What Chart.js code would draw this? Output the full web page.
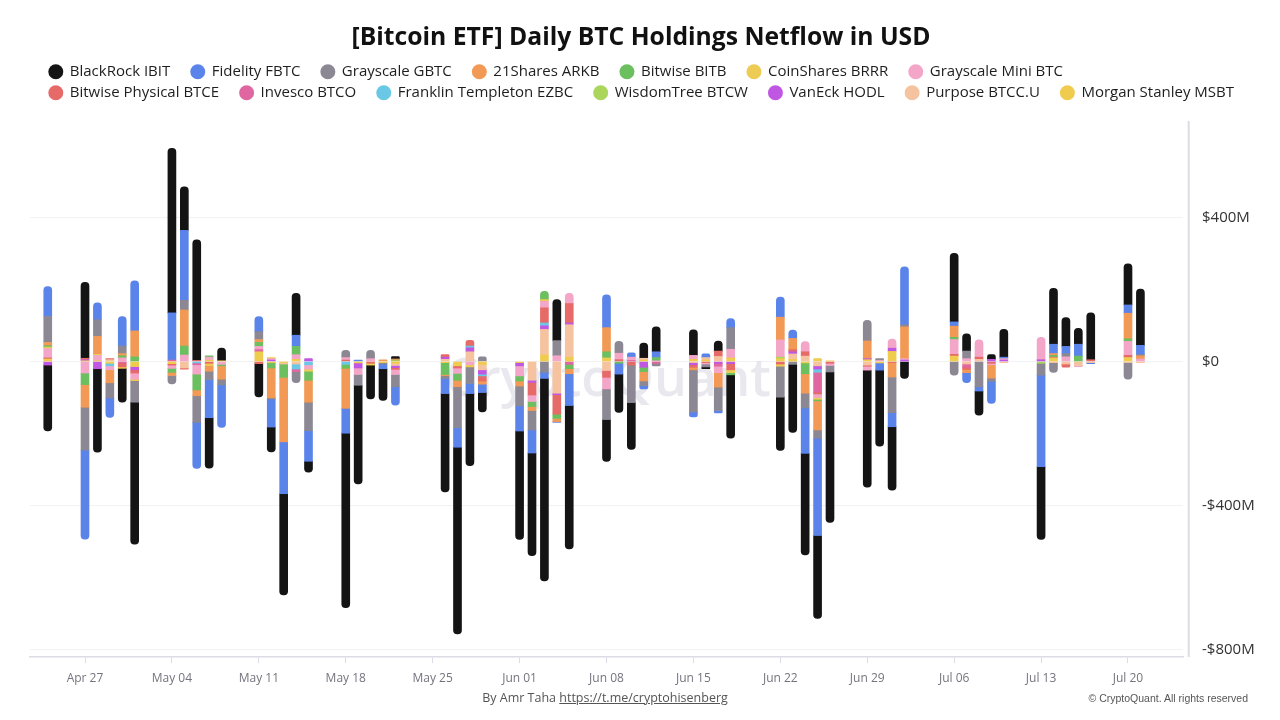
<!DOCTYPE html>
<html><head><meta charset="utf-8">
<script src="https://cdn.jsdelivr.net/npm/chart.js@4.4.1/dist/chart.umd.min.js"></script>
<style>
html,body{margin:0;padding:0;background:#fff;}
#wrap{position:relative;width:1280px;height:720px;overflow:hidden;}
canvas{position:absolute;left:0;top:0;}
#by{position:absolute;left:0;width:1210px;text-align:center;top:689px;font:12.5px 'Open Sans';color:#555;}
#by span{text-decoration:underline;}
#copy{position:absolute;right:32px;top:692px;font:10.5px 'Liberation Sans';color:#555;}
</style></head><body>
<div id="wrap"><canvas id="c" width="1280" height="720"></canvas>
<div id="by">By Amr Taha <span>https://t.me/cryptohisenberg</span></div>
<div id="copy">© CryptoQuant. All rights reserved</div></div>
<script>
const dates = ['2026-04-24','2026-04-27','2026-04-28','2026-04-29','2026-04-30','2026-05-01',
'2026-05-04','2026-05-05','2026-05-06','2026-05-07','2026-05-08',
'2026-05-11','2026-05-12','2026-05-13','2026-05-14','2026-05-15',
'2026-05-18','2026-05-19','2026-05-20','2026-05-21','2026-05-22',
'2026-05-26','2026-05-27','2026-05-28','2026-05-29',
'2026-06-01','2026-06-02','2026-06-03','2026-06-04','2026-06-05',
'2026-06-08','2026-06-09','2026-06-10','2026-06-11','2026-06-12',
'2026-06-15','2026-06-16','2026-06-17','2026-06-18',
'2026-06-22','2026-06-23','2026-06-24','2026-06-25','2026-06-26',
'2026-06-29','2026-06-30','2026-07-01','2026-07-02',
'2026-07-06','2026-07-07','2026-07-08','2026-07-09','2026-07-10',
'2026-07-13','2026-07-14','2026-07-15','2026-07-16','2026-07-17',
'2026-07-20','2026-07-21'];

// Netflow in $M
const ibit = [-183,211,-232,0,-94,-394,457,121,335,-140, 35,-92,-69,-281,116,-30,-484,-274,-94,-88,
  7,-273,-518,-200,-54,-301,-285,-562,114,-398, -116,-106,-130,42,69,71,-5,28,-176,-148,
  -189,-282,-230,-418,-325,-211,-176,-47,190,48, -67,13,77,-202,155,80,44,130,114,156];
const fbtc = [83,-247,47,-54,82,139,131,194,-128,-106, -118,42,-78,-144,31,-85,-69,4,0,-13,
  -51,-42,-54,-28,-23,-70,-64,-17,-2,-88, 91,-30,12,-9,16,-14,10,-7,25,56,
  23,-126,-270,0,0,-20,-39,161,12,-28, -12,-61,4,-254,26,20,33,-3,23,26];
const gbtc = [72,-119,46,-42,21,-60,-23,27,-74,-23, -16,22,-3,0,-31,-79,20,-30,23,-4,
  -34,-8,-114,-46,13,-55,-54,-30,42,0, -85,33,-104,-13,-7,-117,-8,-65,60,-86,
  -8,-41,-23,-18,57,5,-99,6,-38,21, -70,-9,0,-33,-27,9,0,0,-46,3];
const arkb = [9,-63,50,-36,6,72,-9,100,-16,-16, -37,8,-83,-179,0,-61,-111,0,0,5,
  3,-3,-18,0,-9,-14,-11,0,-9,-14, 67,0,0,-26,0,-7,0,-40,0,63,
  31,-54,-81,0,49,0,-40,88,31,-9, 0,-37,0,0,5,0,0,0,71,9];
const bitb = [4,-32,0,0,6,13,-11,25,-44,4, -4,11,-15,-37,23,-25,-11,0,0,0,
  2,-33,-19,0,0,-14,-14,23,-12,-12, 17,-5,0,-12,9,0,0,0,-6,0,
  0,-30,-4,0,0,0,0,0,6,0, 0,0,0,0,5,0,15,0,7,0];
const brrr = [4,0,3,0,-4,-4,0,0,0,-6, 0,0,3,0,0,-6,0,0,-5,0,
  2,0,0,-6,0,0,0,5,0,0, 5,0,0,0,0,0,0,0,-8,-6,
  0,0,-5,0,0,0,0,0,0,0, 0,0,0,0,0,0,0,0,0,0];
const gmini = [26,-32,15,-11,10,-17,-9,18,-26,8, -8,9,4,0,13,-12,7,-18,8,0,
  -14,0,-15,-9,0,-28,-18,18,16,28, -32,18,9,0,2,11,-4,-18,24,48,
  0,28,-10,-6,-11,3,25,4,41,8, 48,-4,4,62,0,13,-3,0,39,7];
const btce = [3,4,0,3,-11,-9,-4,-3,3,-5, 0,-6,0,0,0,0,4,0,-5,0,
  -5,7,-6,16,-14,0,-35,42,-54,54, -19,5,-10,0,0,-7,-3,15,-17,-7,
  6,12,-5,-5,-3,0,-3,0,5,-6, 6,-5,0,0,2,-9,0,5,6,0];
const btco = [0,0,0,0,-4,0,4,0,-5,0, 0,6,0,0,-7,0,0,0,0,0,
  0,0,0,0,0,0,0,0,0,-8, 0,0,3,0,-5,0,0,-8,0,0,
  0,0,-55,0,0,0,0,0,0,-9, 0,0,0,0,0,0,0,0,0,0];
const ezbc = [0,0,0,-7,0,0,0,0,-4,0, 0,0,0,0,-14,-9,-8,0,0,0,
  0,0,0,5,-5,0,0,8,0,0, 0,0,0,0,0,0,0,0,0,0,
  0,0,-9,0,0,0,0,0,0,0, 0,0,0,0,0,0,0,0,0,0];
const btcw = [0,0,0,0,0,0,0,0,0,0, 0,0,0,0,0,0,0,0,0,0,
  0,0,0,0,0,0,0,0,0,0, 0,0,0,0,0,0,0,0,0,4,
  0,0,0,0,0,0,0,0,0,0, 0,0,0,-5,0,0,0,0,0,0];
const hodl = [-10,3,-20,0,0,-9,0,0,0,0, 0,0,4,0,0,8,0,-14,0,0,
  -6,6,0,11,-12,-9,-6,10,-4,5, 0,0,0,-16,0,-6,0,-5,-6,0,
  6,0,-9,0,3,0,9,4,0,0, 0,6,4,5,0,0,0,0,0,0];
const btcc = [0,0,0,5,0,0,0,-18,0,0, 0,0,0,-4,-7,0,0,0,0,0,
  -6,6,0,27,-15,0,-52,71,-88,90, -25,0,0,5,0,-3,7,14,0,0,
  15,15,-12,0,-10,0,0,0,0,-7, 6,0,-3,0,-3,-7,-11,-3,-3,-3];
const msbt = [7,2,2,-5,0,-14,-6,0,0,4, 2,27,-3,-3,6,0,0,-4,0,-3,
  -5,-3,-12,0,-8,-3,0,18,0,12, 5,0,0,4,0,6,4,0,10,8,
  6,-4,8,2,5,-4,28,0,15,0, 0,0,0,0,10,0,0,0,11,0];

const yTickValues = [-800, -400, 0, 400];
const MONTHS = ['Jan','Feb','Mar','Apr','May','Jun','Jul','Aug','Sep','Oct','Nov','Dec'];
const BASE = Date.UTC(2026, 3, 27);
const dayIdx = d => Math.round((Date.parse(d + 'T00:00:00Z') - BASE) / 86400000);
const fmtDay = v => { const d = new Date(BASE + v * 86400000); return MONTHS[d.getUTCMonth()] + ' ' + String(d.getUTCDate()).padStart(2, '0'); };

// stacking order: first = closest to zero
const series = [
  {label: 'Morgan Stanley MSBT', data: msbt, color: '#efcb4e'},
  {label: 'Purpose BTCC.U', data: btcc, color: '#f5c39f'},
  {label: 'VanEck HODL', data: hodl, color: '#c057e3'},
  {label: 'WisdomTree BTCW', data: btcw, color: '#a9d65b'},
  {label: 'Franklin Templeton EZBC', data: ezbc, color: '#6ac8e6'},
  {label: 'Invesco BTCO', data: btco, color: '#df66a0'},
  {label: 'Bitwise Physical BTCE', data: btce, color: '#e66a67'},
  {label: 'Grayscale Mini BTC', data: gmini, color: '#f3a6c8'},
  {label: 'CoinShares BRRR', data: brrr, color: '#eecb52'},
  {label: 'Bitwise BITB', data: bitb, color: '#6cbf5f'},
  {label: '21Shares ARKB', data: arkb, color: '#f29a55'},
  {label: 'Grayscale GBTC', data: gbtc, color: '#8b8894'},
  {label: 'Fidelity FBTC', data: fbtc, color: '#5b84ea'},
  {label: 'BlackRock IBIT', data: ibit, color: '#141414'}
];

const datasets = series.map(s => ({
  label: s.label,
  data: dates.map((d, i) => ({x: dayIdx(d), y: s.data[i] === 0 ? null : s.data[i]})),
  backgroundColor: s.color,
  borderWidth: 0,
  borderRadius: 4,
  barThickness: 8
}));

const extras = {
  id: 'extras',
  afterLayout(chart) {
    chart.legend.left += 13.3;
    chart.legend.right += 13.3;
    chart.scales.y.right = 1280;
  },
  beforeDatasetsDraw(chart) {
    const ctx = chart.ctx;
    ctx.save();
    ctx.font = '600 52px "Open Sans"';
    ctx.fillStyle = 'rgba(200,200,215,0.42)';
    ctx.textAlign = 'center';
    ctx.textBaseline = 'middle';
    ctx.fillText('CryptoQuant', 608, 381);
    ctx.restore();
  },
  afterDraw(chart) {
    const {ctx, chartArea} = chart;
    ctx.save();
    ctx.strokeStyle = '#dcdce4';
    ctx.lineWidth = 2;
    ctx.beginPath();
    ctx.moveTo(chartArea.right + 5.7, chartArea.top);
    ctx.lineTo(chartArea.right + 5.7, chartArea.bottom);
    ctx.stroke();
    ctx.restore();
  }
};

new Chart(document.getElementById('c'), {
  type: 'bar',
  data: {datasets},
  plugins: [extras],
  options: {
    responsive: false,
    animation: false,
    layout: {padding: {left: 30, right: 28, top: 0, bottom: 26.5}},
    plugins: {
      title: {
        display: true,
        text: '[Bitcoin ETF] Daily BTC Holdings Netflow in USD',
        color: '#111',
        font: {family: 'Open Sans', size: 24.7, weight: 'bold'},
        padding: {top: 23.2, bottom: 5.4}
      },
      subtitle: {display: true, text: '', weight: 500, font: {size: 1}, padding: {top: 9.6, bottom: 0}},
      legend: {
        position: 'top',
        align: 'start',
        reverse: true,
        labels: {
          usePointStyle: true,
          pointStyle: 'circle',
          boxWidth: 13,
          boxHeight: 10.6,
          padding: 6,
          color: '#1e1e1e',
          font: {family: 'Open Sans', size: 15},
          generateLabels(chart) {
            const items = Chart.defaults.plugins.legend.labels.generateLabels(chart);
            items.forEach(it => { it.lineWidth = 0; if (it.datasetIndex !== 0) it.text += '\u2003'; });
            return items;
          }
        }
      },
      tooltip: {enabled: false}
    },
    scales: {
      x: {
        type: 'linear', stacked: true, min: -4.43, max: 88.43, offset: false,
        grid: {display: true, offset: false, drawOnChartArea: false, drawTicks: true, tickLength: 6, color: '#dcdce4'},
        border: {display: true, color: '#dcdce4', width: 1.5},
        ticks: {stepSize: 7, includeBounds: false, autoSkip: false, maxRotation: 0, padding: 8,
          color: '#74747e', font: {family: 'Open Sans', size: 12}, callback: v => fmtDay(v)}
      },
      y: {
        position: 'right', stacked: true, min: -820.5, max: 667.5,
        grid: {color: '#f2f2f4', drawTicks: false},
        border: {display: false},
        afterBuildTicks: s => { s.ticks = yTickValues.map(v => ({value: v})); },
        afterFit: s => { s.width = 69; },
        ticks: {padding: 19, color: '#333', font: {family: 'Open Sans', size: 15},
          callback: v => v === 0 ? '$0' : (v < 0 ? '-$' : '$') + Math.abs(v) + 'M'}
      }
    }
  }
});
</script>
</body></html>
